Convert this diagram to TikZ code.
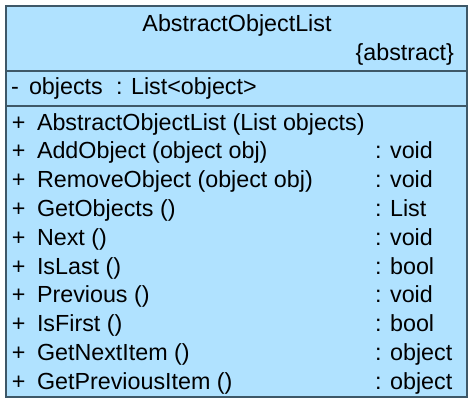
\documentclass[tikz,border=0pt]{standalone}
\usepackage{fontspec}
\setmainfont{Liberation Sans}
\definecolor{boxfill}{RGB}{176,226,255}
\definecolor{boxline}{RGB}{62,88,104}
\begin{document}
\begin{tikzpicture}[x=1pt,y=-1pt,
  txt/.style={inner sep=0pt,outer sep=0pt,font=\fontsize{23.3}{28}\selectfont,text=black},
  lft/.style={txt,anchor=base west},
  sep/.style={draw=boxline,line width=1.6pt}]
\useasboundingbox[fill=white] (0,0) rectangle (474,404);
\node[draw=boxline,fill=boxfill,line width=2pt,inner sep=0pt,minimum width=461pt,minimum height=391pt,anchor=north west] (box) at (5,5) {};
\coordinate (d1l) at (5,71); \coordinate (d1r) at (466,71);
\coordinate (d2l) at (5,106); \coordinate (d2r) at (466,106);
\draw[sep] (d1l) -- (d1r);
\draw[sep] (d2l) -- (d2r);
\node[txt,anchor=base] (title) at (237,31.5) {AbstractObjectList};
\node[txt,anchor=base east] (abs) at (454,61) {\{abstract\}};
\node[lft] (am) at (11,95) {-};
\node[lft] (an) at (29,95) {objects};
\node[lft] (at) at (116,95) {: List<object>};
\foreach \n/\name/\ret [count=\i from 0] in {
  m1/{AbstractObjectList (List objects)}/{},
  m2/{AddObject (object obj)}/{: void},
  m3/{RemoveObject (object obj)}/{: void},
  m4/{GetObjects ()}/{: List},
  m5/{Next ()}/{: void},
  m6/{IsLast ()}/{: bool},
  m7/{Previous ()}/{: void},
  m8/{IsFirst ()}/{: bool},
  m9/{GetNextItem ()}/{: object},
  m10/{GetPreviousItem ()}/{: object}} {
  \pgfmathsetmacro{\yy}{130+28.8*\i}
  \node[lft] (\n p) at (12,\yy) {+};
  \node[lft] (\n) at (37,\yy) {\name};
  \node[lft] (\n r) at (375,\yy) {\ret};
}
\end{tikzpicture}
\end{document}
